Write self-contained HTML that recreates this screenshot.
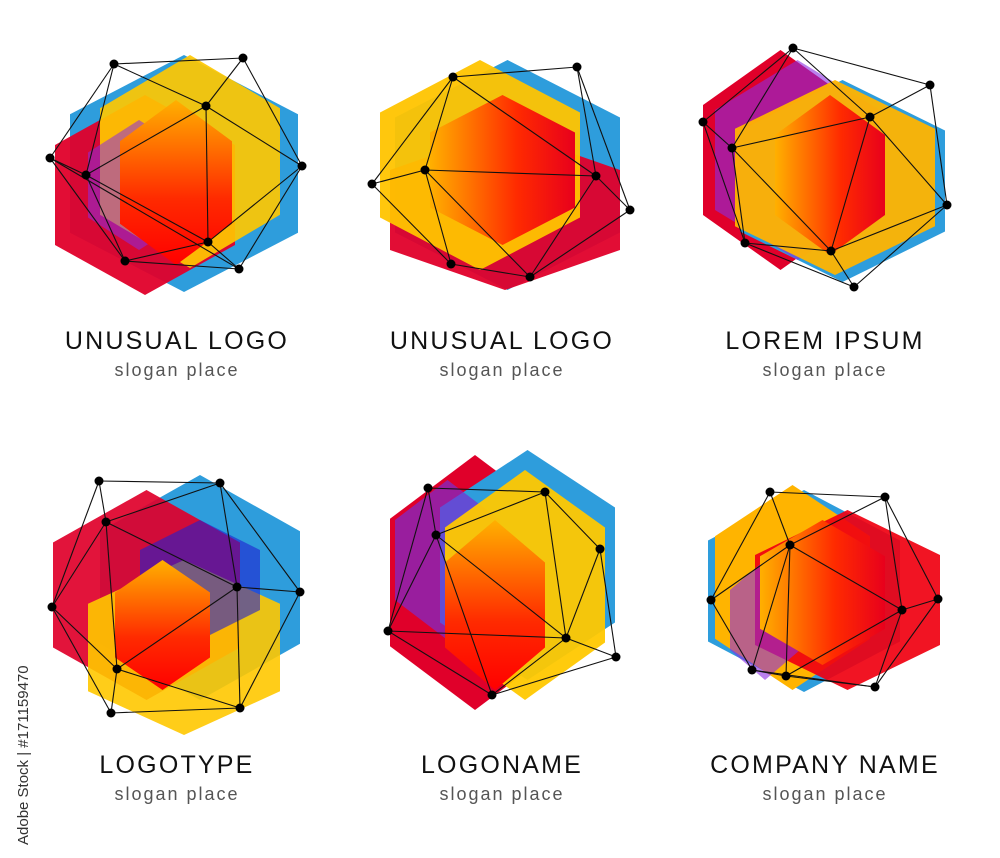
<!DOCTYPE html>
<html><head><meta charset="utf-8"><style>
html,body{margin:0;padding:0;background:#fff;width:1000px;height:858px;overflow:hidden}
svg{display:block}
.t{font-family:"Liberation Sans",sans-serif;font-size:25px;letter-spacing:2.2px;fill:#111;text-anchor:middle;font-weight:normal}
.s{font-family:"Liberation Sans",sans-serif;font-size:18px;letter-spacing:2px;fill:#555;text-anchor:middle}
</style></head><body>
<svg id="sv" width="1000" height="858" viewBox="0 0 1000 858">
<defs>
<linearGradient id="gv" x1="0" y1="0" x2="0" y2="1"><stop offset="0" stop-color="#ffb000"/><stop offset="0.6" stop-color="#ff2a00"/><stop offset="1" stop-color="#f00"/></linearGradient>
<linearGradient id="gh" x1="0" y1="0" x2="1" y2="0"><stop offset="0" stop-color="#ffb000"/><stop offset="0.6" stop-color="#ff2a00"/><stop offset="1" stop-color="#e8001c"/></linearGradient>
</defs>
<g id="shapes"></g>
<g id="net"></g>
<text class="t" x="177" y="349">UNUSUAL LOGO</text>
<text class="s" x="177" y="376">slogan place</text>
<text class="t" x="502" y="349">UNUSUAL LOGO</text>
<text class="s" x="502" y="376">slogan place</text>
<text class="t" x="825" y="349">LOREM IPSUM</text>
<text class="s" x="825" y="376">slogan place</text>
<text class="t" x="177" y="773">LOGOTYPE</text>
<text class="s" x="177" y="800">slogan place</text>
<text class="t" x="502" y="773">LOGONAME</text>
<text class="s" x="502" y="800">slogan place</text>
<text class="t" x="825" y="773">COMPANY NAME</text>
<text class="s" x="825" y="800">slogan place</text>
<text x="28" y="845" transform="rotate(-90 28 845)" style="font-family:'Liberation Sans',sans-serif;font-size:15px;fill:#333">Adobe Stock | #171159470</text>
</svg>
<script>
var NS="http://www.w3.org/2000/svg";
var S=document.getElementById("shapes"),N=document.getElementById("net");
function hx(x1,x2,y1,y2,f,o){var cx=(x1+x2)/2,h=y2-y1,p=[[cx,y1],[x2,y1+h/4],[x2,y2-h/4],[cx,y2],[x1,y2-h/4],[x1,y1+h/4]];
var e=document.createElementNS(NS,"polygon");e.setAttribute("points",p.map(function(a){return a.join(",")}).join(" "));e.setAttribute("fill",f);e.setAttribute("fill-opacity",o||1);S.appendChild(e);}
hx(70,298,55,292,"#2e9ddc");hx(55,235,95,295,"#e0002a",0.95);hx(100,280,55,268,"#ffc800",0.92);hx(88,190,120,250,"#8a2be2",0.55);hx(120,232,100,265,"url(#gv)");
hx(395,620,60,290,"#2e9ddc");hx(390,620,130,290,"#e0002a",0.95);hx(380,580,60,270,"#ffc400",0.95);hx(430,575,95,245,"url(#gh)");
hx(703,858,50,270,"#e0002a");hx(740,945,80,282,"#2e9ddc");hx(715,880,60,260,"#8a2be2",0.6);hx(735,935,80,275,"#ffb400",0.95);hx(775,885,95,255,"url(#gh)");
hx(100,300,475,700,"#2e9ddc");hx(53,240,490,700,"#e0002a",0.92);hx(88,280,560,735,"#ffc800",0.9);hx(140,260,520,640,"#2020d0",0.6);hx(115,210,560,690,"url(#gv)");
hx(390,560,455,710,"#e0002a");hx(440,615,450,680,"#2e9ddc");hx(395,500,480,640,"#7b2bd0",0.7);hx(445,605,470,700,"#ffc800",0.95);hx(445,545,520,690,"url(#gv)");
hx(708,900,490,692,"#2e9ddc");hx(715,870,485,690,"#ffb400");hx(755,940,510,690,"#f00010",0.92);hx(730,800,560,680,"#8a2be2",0.6);hx(760,885,520,665,"url(#gh)");
function net(pts,edges){edges.forEach(function(e){var a=pts[e[0]],b=pts[e[1]];var l=document.createElementNS(NS,"line");l.setAttribute("x1",a[0]);l.setAttribute("y1",a[1]);l.setAttribute("x2",b[0]);l.setAttribute("y2",b[1]);l.setAttribute("stroke","#111");l.setAttribute("stroke-width","1.1");N.appendChild(l);});
pts.forEach(function(p){var c=document.createElementNS(NS,"circle");c.setAttribute("cx",p[0]);c.setAttribute("cy",p[1]);c.setAttribute("r",4.5);c.setAttribute("fill","#000");N.appendChild(c);});}
net([[114,64],[243,58],[206,106],[50,158],[86,175],[302,166],[208,242],[125,261],[239,269]],
[[0,1],[0,2],[1,2],[1,5],[2,5],[2,4],[2,6],[0,3],[0,4],[3,4],[3,7],[4,7],[4,6],[6,5],[6,7],[7,8],[8,5],[6,8],[3,8]]);
net([[453,77],[577,67],[425,170],[372,184],[596,176],[630,210],[451,264],[530,277]],
[[0,1],[0,2],[0,3],[1,4],[1,5],[2,4],[2,3],[2,6],[2,7],[3,6],[6,7],[7,4],[7,5],[4,5],[0,4]]);
net([[793,48],[703,122],[870,117],[732,148],[947,205],[745,243],[831,251],[854,287],[930,85]],
[[0,1],[0,2],[0,8],[8,4],[0,3],[1,3],[1,5],[3,2],[3,5],[3,6],[2,6],[2,4],[5,6],[6,7],[5,7],[7,4],[6,4],[2,8]]);
net([[99,481],[220,483],[106,522],[237,587],[52,607],[300,592],[117,669],[111,713],[240,708]],
[[0,1],[0,2],[0,4],[1,2],[1,3],[1,5],[2,3],[2,4],[2,6],[3,5],[3,6],[3,8],[4,6],[4,7],[6,7],[7,8],[8,5],[6,8]]);
net([[428,488],[545,492],[436,535],[600,549],[566,638],[388,631],[616,657],[492,695]],
[[0,1],[0,2],[0,5],[1,2],[1,3],[1,4],[2,4],[2,5],[2,7],[3,4],[3,6],[4,6],[4,7],[5,7],[6,7],[5,4]]);
net([[770,492],[885,497],[790,545],[711,600],[902,610],[938,599],[752,670],[786,676],[875,687]],
[[0,1],[0,2],[0,3],[1,2],[1,5],[2,4],[2,3],[2,7],[2,6],[3,6],[4,5],[4,7],[4,8],[5,8],[6,7],[7,8],[1,4],[6,8]]);
</script>
</body></html>
